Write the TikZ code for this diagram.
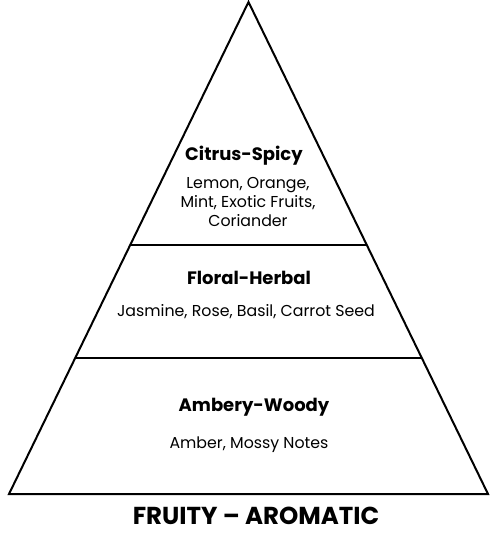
\documentclass[tikz,border=0pt]{standalone}
\usepackage{fontspec}
\setmainfont{Poppins}
\begin{document}
\begin{tikzpicture}[x=1pt,y=-1pt,
  edge/.style={line width=2pt,line join=miter},
  title/.style={font=\fontsize{18}{21}\selectfont\bfseries,inner sep=0pt,anchor=center},
  body/.style={font=\fontsize{15.8}{19}\selectfont,inner sep=0pt,anchor=center,align=center},
  bottom/.style={font=\fontsize{24.5}{28}\selectfont\bfseries,inner sep=0pt,anchor=center}]
\useasboundingbox (0,0) rectangle (490,546);
\coordinate (apex) at (248.5,2);
\coordinate (bl) at (9,494);
\coordinate (br) at (488,494);
\coordinate (l1) at (130.2,245);
\coordinate (r1) at (366.8,245);
\coordinate (l2) at (75.2,358);
\coordinate (r2) at (421.8,358);
\draw[edge] (apex) -- (br) -- (bl) -- cycle;
\draw[edge] (l1) -- (r1);
\draw[edge] (l2) -- (r2);
\node[title] (t1) at (244,156) {Citrus-Spicy};
\node[body] (b1) at (248,202) {Lemon, Orange,\\Mint, Exotic Fruits,\\Coriander};
\node[title] (t2) at (249,278) {Floral-Herbal};
\node[body] (b2) at (246,312) {Jasmine, Rose, Basil, Carrot Seed};
\node[title] (t3) at (254,407) {Ambery-Woody};
\node[body] (b3) at (249,445) {Amber, Mossy Notes};
\node[bottom] (ft) at (256,516) {FRUITY -- AROMATIC};
\end{tikzpicture}
\end{document}
